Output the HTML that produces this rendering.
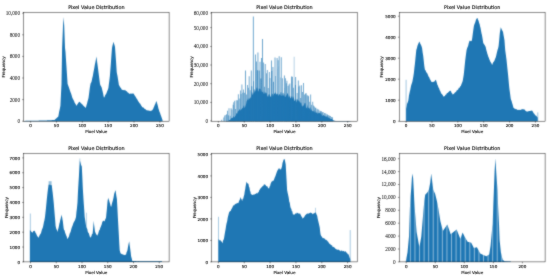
<!DOCTYPE html>
<html lang="en"><head><meta charset="utf-8"><title>Pixel Value Distribution</title>
<style>html,body{margin:0;padding:0;background:#fff}svg{display:block}text{stroke:#111;stroke-width:0.14px}text[stroke-width]{stroke-width:0.04px}</style></head>
<body>
<svg width="550" height="278" viewBox="0 0 550 278" font-family='"DejaVu Sans","Liberation Sans",sans-serif' fill="#111">
<rect width="550" height="278" fill="#fff"/>
<defs><filter id="bl" filterUnits="userSpaceOnUse" x="0" y="0" width="550" height="278" color-interpolation-filters="sRGB"><feConvolveMatrix order="3" kernelMatrix="0.03 0.09 0.03 0.09 0.52 0.09 0.03 0.09 0.03" divisor="1" edgeMode="duplicate"/></filter><filter id="bt" filterUnits="userSpaceOnUse" x="0" y="0" width="550" height="278" color-interpolation-filters="sRGB"><feConvolveMatrix order="3" kernelMatrix="0.015 0.06 0.015 0.06 0.7 0.06 0.015 0.06 0.015" divisor="1" edgeMode="duplicate"/></filter></defs>
<g filter="url(#bl)">
<path d="M24 121.2L24 120.9L24.52 120.89L25.03 120.88L25.55 120.86L26.07 120.87L26.59 120.83L27.1 120.84L27.62 120.85L28.14 120.81L28.65 120.81L29.17 120.81L29.69 120.77L30.2 120.78L30.72 120.78L31.24 120.76L31.75 120.76L32.27 120.73L32.79 120.72L33.31 120.7L33.82 120.71L34.34 120.72L34.86 120.7L35.37 120.7L35.89 120.67L36.41 120.68L36.92 120.63L37.44 120.63L37.96 120.64L38.48 120.64L38.99 120.61L39.51 120.58L40.03 120.58L40.54 120.57L41.06 120.56L41.58 120.58L42.09 120.54L42.61 120.57L43.13 120.56L43.65 120.5L44.16 120.51L44.68 120.51L45 120.5L45.71 120.43L46.23 120.43L46.75 120.44L47.27 120.35L47.78 120.36L48.3 120.29L48.82 120.31L49.33 120.31L49.85 120.22L50.37 120.17L50.88 120.15L51.4 120.17L51.92 120.08L52.44 120.06L52.95 120.08L53.47 120.1L53.99 120.02L54.5 120L55.02 119.52L55.54 119.1L56.05 118.51L56.57 118.18L57.09 117.58L57.6 117.27L58.2 116.7L58.64 114.8L59.16 111.7L59.67 109.43L60.19 106.9L60.4 105.8L60.71 99.51L61.22 89.33L61.5 84L61.74 69.84L62.1 48L62.77 31.8L63 26L63.29 21.44L63.6 17.1L63.81 20.32L64.2 26L65 48L65.5 52L65.88 58.02L66.39 65.46L66.91 73.57L67.6 84L67.94 84.65L68.46 86.22L69.1 88L69.5 89.26L70.01 90.72L70.53 92.34L71.05 93.43L71.56 95.09L72.08 96.91L72.7 98.5L73.11 99.37L73.63 100.31L74.15 101.3L74.67 102.67L75.18 103.44L75.7 104.13L76.4 105.8L76.73 105.51L77.25 104.49L77.77 103.83L78.28 102.96L78.8 102.37L79.3 101.7L79.84 102.09L80.35 102.43L80.87 103.24L81.39 103.4L81.9 104.29L82.2 104.4L82.42 104.34L82.94 105.31L83.45 105.84L83.97 106.17L84.49 106.81L85.01 107.05L85.52 107.87L85.8 108L86.04 107.07L86.56 105.03L87.07 103.56L87.59 101.31L88.11 99.38L88.5 98L89.14 93.28L89.8 88L90.18 85.81L90.6 83.5L91.21 82.38L91.6 81.5L92.24 78.31L92.76 76.32L93 75L93.28 73.33L93.8 70.38L94.31 68.11L94.83 64.8L95.35 62.43L95.86 59.63L96.4 56.4L96.9 60.27L97.41 63.88L97.93 67.87L98.45 71.93L98.97 76L99.48 80.1L100 84L100.52 85.43L101.03 86.21L101.55 87.23L101.8 88L102.07 89.23L102.58 91.27L103.1 93.55L103.62 96.13L104 97.8L104.65 96.67L105.17 95.29L105.69 94.53L106.2 93.69L106.5 93L106.72 92.58L107.24 90.99L107.75 89.93L108.4 88L108.79 84.7L109.31 80.89L109.9 76L110.34 70.31L110.86 63.48L111.37 56.36L112 48L112.41 46.08L112.92 43.91L113.5 41.8L113.96 43.41L114.47 44.98L115 47L115.51 54.08L115.8 58L116.03 61.27L116.7 72L117.06 73.97L117.5 76L118.09 79.69L118.61 82.93L118.9 85.1L119.13 85.27L119.64 86.26L120.16 87.14L120.68 87.85L121.2 88.55L121.8 89.7L122.23 89.75L122.75 90.1L123.26 89.92L123.78 90.23L124.3 89.75L124.81 90.4L125.5 90.2L125.85 90.78L126.37 91.09L126.88 91.6L127.4 92.12L127.92 92.86L128.43 92.87L129.1 93.8L129.47 93.86L129.99 93.76L130.5 93.58L131.02 93.8L131.54 93.77L132.05 93.36L132.57 93.68L133.09 93.5L133.5 93.5L134.12 94.49L134.64 95.41L135.16 95.89L135.67 97.05L136.19 97.74L136.71 98.87L137.22 99.31L137.8 100.4L138.26 101.27L138.77 101.98L139.29 102.68L139.81 103.59L140.32 103.85L140.84 104.95L141.36 105.73L141.88 106.53L142.2 106.9L142.91 107.41L143.43 107.61L143.94 108.09L144.46 108.75L144.98 108.91L145.5 109.24L146.01 109.83L146.5 110.3L147.05 110.37L147.56 110.49L148.08 110.27L148.6 110.8L149.11 110.62L149.63 110.97L150.15 110.59L150.66 111.24L150.9 111L151.18 110.81L151.7 110.6L152.22 110.16L152.73 109.62L153.1 109.1L153.77 107.25L154.28 106.14L154.8 104.82L155.32 103.89L155.84 102.28L156.4 101.1L156.87 102.56L157.39 104.3L157.9 106.1L158.42 108.39L158.9 109.8L159.45 111.66L159.97 112.76L160.49 114.44L161 115.75L161.52 117.24L162.04 118.66L162.5 120L162.6 120.9L162.6 121.2Z" fill="#1f77b4"/>
<rect x="23.6" y="12.5" width="145.5" height="108.7" fill="none" stroke="#000" stroke-width="0.45"/>
<path d="M30.6 121.2v1.4M56.45 121.2v1.4M82.3 121.2v1.4M108.15 121.2v1.4M134 121.2v1.4M159.85 121.2v1.4M23.6 121.2h-1.4M23.6 99.6h-1.4M23.6 78h-1.4M23.6 56.4h-1.4M23.6 34.8h-1.4M23.6 13.2h-1.4" stroke="#000" stroke-width="0.45" fill="none"/>
<path d="M225.9 121.2L225.9 121L226.41 121L226.93 121L227.45 121L227.96 121L228.48 120.84L229 120.34L229.52 120.02L230.03 119.7L230.55 119.45L231.07 118.37L231.58 118.14L232.1 117.4L232.62 118.09L233.13 117.55L233.65 115.89L234.17 117.47L234.69 117.12L235.2 116.02L235.72 115.55L236.24 113.84L236.75 112.9L237.27 113.84L237.79 111.41L238.3 111.13L238.82 110.58L239.34 108.82L239.86 110.2L240.37 109.51L240.89 110.98L241.41 108.83L241.92 108.89L242.44 107.65L242.96 107.93L243.47 106.36L243.99 104.93L244.51 107.98L245.03 107.23L245.54 105.66L246.06 104.21L246.58 101.45L247.09 100.23L247.61 99.74L248.13 97.86L248.64 100.57L249.16 97.97L249.68 99.43L250.2 96.36L250.71 98.45L251.23 97.13L251.75 92.12L252.26 92.4L252.78 95.24L253.3 92.46L253.81 94.43L254.33 90.94L254.85 88.73L255.37 91.1L255.88 91.49L256.4 88.6L256.92 87.33L257.43 88.21L257.95 91.63L258.47 90.95L258.98 88.1L259.5 89.09L260.02 88.72L260.54 88.84L261.05 92.85L261.57 90.09L262.09 92.32L262.6 92.09L263.12 91.14L263.64 94.17L264.15 91.5L264.67 94.31L265.19 91.85L265.71 93.55L266.22 92.68L266.74 93.14L267.26 96.82L267.77 96.16L268.29 93.84L268.81 96.92L269.32 93.72L269.84 94.82L270.36 97.26L270.88 96.11L271.39 93.32L271.91 97.67L272.43 93.7L272.94 93.84L273.46 96.33L273.98 94.02L274.49 93.77L275.01 92.57L275.53 92.56L276.05 94.93L276.56 93.15L277.08 94.85L277.6 93.61L278.11 93.93L278.63 96.37L279.15 93.9L279.66 94.27L280.18 95.64L280.7 92.13L281.22 92.07L281.73 95.96L282.25 95.63L282.77 92.91L283.28 92.73L283.8 95.6L284.32 96.73L284.83 93.15L285.35 97.05L285.87 96.85L286.39 95.59L286.9 94.82L287.42 93.37L287.94 93.18L288.45 98.06L288.97 94.73L289.49 97.34L290 95.39L290.52 98.51L291.04 97.65L291.56 96.42L292.07 96.12L292.59 99.18L293.11 96.25L293.62 97.38L294.14 99.37L294.66 101.16L295.17 100.3L295.69 98.96L296.21 102.48L296.73 99.24L297.24 98.65L297.76 100.28L298.28 101.52L298.79 99.96L299.31 100.9L299.83 102.22L300.34 103.6L300.86 101.76L301.38 103.16L301.9 106.01L302.41 106.67L302.93 105.26L303.45 105.63L303.96 105.31L304.48 103.29L305 103.07L305.51 103.3L306.03 108.07L306.55 107.33L307.07 108.95L307.58 104.56L308.1 107.93L308.62 107.44L309.13 108.95L309.65 107.16L310.17 110.84L310.68 106.49L311.2 109.12L311.72 110.34L312.24 111.41L312.75 110.83L313.27 110.91L313.79 111.6L314.3 112.45L314.82 109.89L315.34 111.77L315.85 113.02L316.37 113.09L316.89 111.28L317.41 113.17L317.92 113.7L318.44 112.72L318.96 113.18L319.47 112.49L319.99 113.51L320.51 113.85L321.02 112.26L321.54 114.44L322.06 115.82L322.58 115.67L323.09 115.43L323.61 114.7L324.13 115.93L324.64 115.77L325.16 115.69L325.68 116.89L326.19 115.46L326.71 117.18L327.23 116.04L327.75 117.41L328.26 117.49L328.78 117.39L329.3 118.36L329.81 118.37L330.33 118.78L330.85 119.34L331.36 118.99L331.88 119.11L332.4 119.62L332.92 120.09L333.43 120.18L333.95 120.41L334.47 120.73L334.98 120.85L335.5 121L336.02 121L336.53 121L337.05 121L337.57 121L338.09 121L338.6 121L339.12 121L339.64 121L340.15 121L340.67 121L341.19 121L341.7 121L342.22 121L342.74 121L343.26 121L343.77 121L344.29 121L344.81 121L345.32 121L345.84 121L346.36 121L346.87 121L347.39 121L347.91 121L348.43 121L348.94 121L349.46 121L349.98 121L350.49 121L350.49 121.2Z" fill="#1f77b4"/>
<path d="M221.36 121.2V119.79h0.8V121.2zM223.43 121.2V117.55h0.8V121.2zM225.5 121.2V114.95h0.8V121.2zM227.05 121.2V110.86h0.8V121.2zM228.6 121.2V108.14h0.8V121.2zM230.67 121.2V108.21h0.8V121.2zM232.73 121.2V104.83h0.8V121.2zM234.29 121.2V100.7h0.8V121.2zM235.84 121.2V100.24h0.8V121.2zM237.9 121.2V94.33h0.8V121.2zM239.97 121.2V90.49h0.8V121.2zM241.52 121.2V84.57h0.8V121.2zM243.07 121.2V89.43h0.8V121.2zM247.21 121.2V84.95h0.8V121.2zM248.76 121.2V76.24h0.8V121.2zM256 121.2V61.54h0.8V121.2zM263.24 121.2V62.41h0.8V121.2zM266.86 121.2V70.09h0.8V121.2zM268.92 121.2V71.89h0.8V121.2zM277.71 121.2V60.37h0.8V121.2zM284.95 121.2V78.21h0.8V121.2zM286.5 121.2V80.82h0.8V121.2zM288.57 121.2V84.48h0.8V121.2zM292.19 121.2V76.72h0.8V121.2zM297.88 121.2V80.41h0.8V121.2zM299.43 121.2V85.54h0.8V121.2zM300.98 121.2V85.23h0.8V121.2zM303.05 121.2V82.97h0.8V121.2zM305.11 121.2V93.57h0.8V121.2zM306.67 121.2V95.25h0.8V121.2zM308.22 121.2V96.22h0.8V121.2zM310.28 121.2V94.51h0.8V121.2zM312.35 121.2V101.77h0.8V121.2zM313.9 121.2V106.53h0.8V121.2zM315.45 121.2V107.67h0.8V121.2zM317.52 121.2V109.27h0.8V121.2zM319.59 121.2V110.63h0.8V121.2zM321.14 121.2V111.23h0.8V121.2zM322.69 121.2V111.98h0.8V121.2zM324.76 121.2V113.21h0.8V121.2zM326.83 121.2V114.34h0.8V121.2zM328.38 121.2V115.26h0.8V121.2zM329.93 121.2V115.96h0.8V121.2zM332 121.2V117.13h0.8V121.2z" fill="#1f77b4" opacity="0.75"/>
<path d="M252.9 121.2V16.5h0.8V121.2zM262.2 121.2V39.1h0.8V121.2zM245.14 121.2V70.5h0.8V121.2zM250.83 121.2V70.5h0.8V121.2zM254.97 121.2V54.5h0.8V121.2zM257.55 121.2V52.4h0.8V121.2zM259.62 121.2V61.8h0.8V121.2zM261.17 121.2V58h0.8V121.2zM264.79 121.2V64h0.8V121.2zM270.99 121.2V60.4h0.8V121.2zM272.54 121.2V67h0.8V121.2zM274.61 121.2V57.5h0.8V121.2zM276.68 121.2V58h0.8V121.2zM278.75 121.2V56.3h0.8V121.2zM280.82 121.2V57.2h0.8V121.2zM283.92 121.2V75.6h0.8V121.2zM291.16 121.2V76.4h0.8V121.2zM295.29 121.2V77h0.8V121.2zM224.38 121.2V115.58h0.7V121.2zM226.19 121.2V114.33h0.7V121.2zM228 121.2V115.3h0.7V121.2zM229.81 121.2V115.81h0.7V121.2zM231.62 121.2V109.54h0.7V121.2zM233.43 121.2V102.35h0.7V121.2zM235.24 121.2V108.93h0.7V121.2zM237.05 121.2V100.21h0.7V121.2zM238.86 121.2V98.6h0.7V121.2zM240.67 121.2V93.94h0.7V121.2zM242.48 121.2V92.76h0.7V121.2zM244.29 121.2V92.74h0.7V121.2zM246.1 121.2V94.6h0.7V121.2zM247.91 121.2V87.81h0.7V121.2zM249.72 121.2V90.18h0.7V121.2zM251.53 121.2V86.16h0.7V121.2zM253.34 121.2V81.18h0.7V121.2zM255.14 121.2V70.08h0.7V121.2zM256.95 121.2V70.16h0.7V121.2zM258.76 121.2V70.51h0.7V121.2zM260.57 121.2V78.6h0.7V121.2zM262.38 121.2V71.51h0.7V121.2zM264.19 121.2V86.73h0.7V121.2zM266 121.2V73.36h0.7V121.2zM267.81 121.2V87.94h0.7V121.2zM269.62 121.2V78.08h0.7V121.2zM271.43 121.2V70.91h0.7V121.2zM273.24 121.2V81.68h0.7V121.2zM275.05 121.2V76.02h0.7V121.2zM276.86 121.2V69.18h0.7V121.2zM278.67 121.2V66.67h0.7V121.2zM280.48 121.2V77.59h0.7V121.2zM282.29 121.2V78.32h0.7V121.2zM284.1 121.2V87.92h0.7V121.2zM285.91 121.2V83.22h0.7V121.2zM287.72 121.2V85.88h0.7V121.2zM289.53 121.2V83.42h0.7V121.2zM291.33 121.2V81.58h0.7V121.2zM293.14 121.2V87.65h0.7V121.2zM294.95 121.2V85.01h0.7V121.2zM296.76 121.2V93.06h0.7V121.2zM298.57 121.2V86.58h0.7V121.2zM300.38 121.2V97.94h0.7V121.2zM302.19 121.2V92.06h0.7V121.2zM304 121.2V94.55h0.7V121.2zM305.81 121.2V93.34h0.7V121.2zM307.62 121.2V95.55h0.7V121.2zM309.43 121.2V101.72h0.7V121.2zM311.24 121.2V104.64h0.7V121.2zM313.05 121.2V105.51h0.7V121.2zM314.86 121.2V107.68h0.7V121.2zM316.67 121.2V108.75h0.7V121.2zM318.48 121.2V109.85h0.7V121.2zM320.29 121.2V111.37h0.7V121.2zM322.1 121.2V112.22h0.7V121.2zM323.91 121.2V112.95h0.7V121.2zM325.72 121.2V113.81h0.7V121.2zM327.52 121.2V115.05h0.7V121.2zM329.33 121.2V115.8h0.7V121.2zM331.14 121.2V117.01h0.7V121.2z" fill="#1f77b4" opacity="0.8"/>
<path d="M293.74 121.2V56.7h0.8V121.2z" fill="#1f77b4" opacity="0.4"/>
<rect x="211.6" y="12.5" width="145.6" height="108.7" fill="none" stroke="#000" stroke-width="0.45"/>
<path d="M218.4 121.2v1.4M244.26 121.2v1.4M270.12 121.2v1.4M295.98 121.2v1.4M321.84 121.2v1.4M347.7 121.2v1.4M211.6 120.9h-1.4M211.6 102.4h-1.4M211.6 83.7h-1.4M211.6 65h-1.4M211.6 46.5h-1.4M211.6 27.6h-1.4M211.6 13h-1.4" stroke="#000" stroke-width="0.45" fill="none"/>
<path d="M406.1 121.2L406.1 109L406.62 106.24L407 104L407.65 102.41L408.3 100.4L408.69 97.75L409 95.1L409.2 94.59L409.72 92.08L410.24 89.92L410.8 87L411.27 84.88L411.79 83.4L412.3 81.97L412.6 80.5L412.82 79.29L413.34 76.38L414 72L414.37 68.27L414.89 63.89L415.1 62L415.41 58.71L415.92 53.81L416.3 50L416.96 47.88L417.47 45.65L417.8 45L418.51 43.33L419.02 42.35L419.5 41.6L420.06 43.24L420.58 44.28L421 45L421.61 46.47L422.1 48.2L422.64 52.43L423.16 55.61L423.5 58.4L424.3 66L424.71 68.46L425 70L425.23 70.04L425.75 70.76L426.26 72.38L426.78 72.62L427.3 73.47L427.9 74.7L428.33 76.01L428.85 76.96L429.37 77.48L429.88 79.13L430.4 79.8L430.92 80.98L431.5 82L431.95 81.64L432.47 82.2L432.98 81.87L433.5 82.02L434 81.5L434.54 81.38L435.05 80.38L435.57 79.97L435.9 79.8L436.6 81.89L437.12 83.63L437.4 84.9L437.64 85.04L438.15 86.4L438.67 87.82L439.19 88.43L439.7 90.18L440.22 91.03L440.74 92.15L441 92.9L441.26 93.53L441.77 93.92L442.29 94.47L442.81 95.31L443.32 96.21L443.9 96.8L444.36 95.91L444.88 96.17L445.39 94.75L445.91 94.85L446.43 94.37L446.94 93.07L447.5 92.9L447.98 92.81L448.49 92.05L449.01 91.86L449.53 90.97L450.05 90.63L450.5 90.7L451.08 91.43L451.6 93.04L452.11 93.27L452.6 94.4L453.15 94.22L453.66 93.98L454.18 93.6L454.7 92.67L455.21 92.29L455.5 92.2L455.73 91.95L456.25 91.56L456.77 90.34L457.28 90.3L457.8 89.73L458.32 89.17L458.83 87.82L459.2 87.8L459.87 87.45L460.38 86.1L460.8 86L461.42 84.15L461.94 82.98L462.45 81.83L462.8 80.5L463.49 76.23L463.7 75.1L464 72.52L464.52 67.15L465.2 60.5L465.56 57.67L466.07 53.8L466.6 50L467.11 48.36L467.62 46.89L468.1 46L468.66 43.5L469.17 41.95L469.5 40.5L470.21 41.2L470.73 40.64L471.24 40.73L471.7 41.3L472.28 37.73L472.79 33.73L473.31 30.02L473.9 26L474.34 24.45L474.86 23.25L475.38 21.93L475.89 20.07L476.1 19.5L476.41 19.1L476.93 18.21L477.5 18L477.96 19.74L478.48 20.47L479 22.42L479.7 24.5L480.03 26.34L480.55 28.1L481.06 31.04L481.58 33.63L481.9 34.7L482.62 39.02L483.13 42.19L483.4 43.5L483.65 43.49L484.17 44.5L484.68 44.96L485.2 46.3L485.5 46.4L485.72 47.2L486.3 50L486.75 51.38L487.27 53.49L487.79 54.98L488.3 56.71L488.82 57.87L489.2 59.1L489.85 60.4L490.37 61.65L490.89 62.46L491.4 63.32L492.1 64.9L492.44 64.13L492.96 62.85L493.47 62.01L493.99 61.51L494.51 60.43L495.02 59.09L495.7 57.6L496.06 56.17L496.57 53.95L497.09 51.66L497.61 49.76L498.13 48.15L498.6 46L499.16 40.4L499.8 33.3L500.19 30.77L500.8 27.2L501.23 28.35L501.75 29.42L502.26 30.43L502.78 31.49L503 31.8L503.3 33.75L503.81 36.39L504.5 40.5L504.85 45.39L505.2 50L505.88 54.91L506.4 58.97L506.6 60.5L506.92 63.81L507.43 68.77L508.1 75.1L508.47 78.9L509.1 86L509.5 89.53L510.02 93.3L510.7 98.5L511.05 99.72L511.57 100.9L512.09 103.08L512.6 104.51L513.12 106.58L513.6 108L514.15 108.21L514.67 108.75L515.19 108.82L515.7 109.18L516.22 108.99L516.74 109.48L517.25 109.79L517.77 110.1L518 109.9L518.29 109.72L518.81 110.08L519.32 110.03L519.84 109.78L520.36 109.96L520.87 109.86L521.39 109.39L521.91 109.32L522.42 108.91L522.94 109.44L523.46 109.45L523.8 109L524.49 109.6L525.01 110.26L525.53 110.75L526.04 111.22L526.7 111.6L527.08 111.22L527.6 111.66L528.11 111.37L528.63 111.33L529.15 111L529.66 111.07L530.18 111.1L530.7 110.86L531.21 110.82L531.8 110.5L532.25 110.69L532.76 111.53L533.28 112.49L533.8 113.39L534.32 113.72L534.7 114.5L535.35 115.32L535.87 115.78L536.38 115.84L536.9 116.7L537.42 117.2L537.7 117.5L537.7 121.2Z" fill="#1f77b4"/>
<rect x="405.7" y="79.8" width="0.75" height="41.4" fill="#1f77b4" opacity="0.55"/>
<rect x="537.5" y="112.4" width="0.7" height="8.8" fill="#1f77b4" opacity="0.6"/>
<rect x="399.3" y="12.5" width="145.8" height="108.7" fill="none" stroke="#000" stroke-width="0.45"/>
<path d="M406.1 121.2v1.4M431.97 121.2v1.4M457.84 121.2v1.4M483.71 121.2v1.4M509.58 121.2v1.4M535.45 121.2v1.4M399.3 121.2h-1.4M399.3 100.2h-1.4M399.3 79.2h-1.4M399.3 58.2h-1.4M399.3 37.2h-1.4M399.3 16.2h-1.4" stroke="#000" stroke-width="0.45" fill="none"/>
<path d="M29.9 261.9L29.9 229.8L30.42 230.77L31 231L31.45 232L31.97 232.15L32.4 232.7L33 231.74L33.52 230.83L34.04 231.21L34.5 230.5L35.07 231.6L35.59 233.04L36.1 233.53L36.5 234.5L37.14 236.12L37.66 236.42L38.2 237.8L38.69 237.36L39.21 236.35L39.72 235L40.24 234.27L40.76 233.56L41.1 232.7L41.79 230.01L42.31 228.82L42.83 227.48L43.3 225.5L43.86 222.41L44.38 220.61L45 217.1L45.41 213.37L45.93 208.56L46.5 202.5L46.96 197.87L47.6 192L48.1 188L48.6 185L49.03 184.28L49.55 185.08L50 184.5L50.58 185.25L51.1 185.03L51.8 185.5L52.3 190L52.65 192.54L53.16 197.3L53.7 202.5L54.2 208.76L54.9 217.1L55.23 221.04L55.6 226L56.27 228.74L56.78 229.86L57.5 232L57.82 230.31L58.5 228L58.85 226.56L59.37 223.72L59.89 222.08L60.2 220L60.4 219.83L60.92 217.38L61.44 215.67L61.7 214.5L61.95 216.28L62.47 219.48L62.8 221L63.6 228L64.02 229.99L64.54 230.28L65.1 232.7L65.57 233.71L66.09 235.36L66.61 236.25L67.12 237.96L67.7 239.3L68.16 237.52L68.67 237.26L69.19 235.4L69.71 233.46L70.2 232.7L70.74 231.27L71.26 229.21L71.78 227.47L72.4 226L72.81 225L73.33 223.28L73.84 222.15L74.5 221L74.88 220.5L75.4 218.89L76 217L76.43 212.16L76.95 208.23L77.5 202.5L77.98 191.86L78.2 188L78.5 182.96L78.9 176.7L79.4 166.5L79.9 160.5L80.6 163L81.08 164.97L81.8 166.5L82.3 176.7L82.8 188L83.15 193.82L83.7 202.5L84.19 209.26L84.7 217L85.22 220.29L85.74 223.75L86.2 227L86.9 228.4L87.29 228.99L87.8 231.7L88.5 233L88.84 233.19L89.36 234.94L89.87 236.64L90.5 237.8L90.91 236.72L91.42 236.33L91.94 234.11L92.46 233.93L92.7 232.7L92.97 229.96L93.49 223.45L93.7 220.7L94.01 223.97L94.53 227.91L94.9 231.3L95.56 233.05L96.08 234.02L96.59 234.64L97.2 235.8L97.63 234.69L98.14 233.73L98.66 232.02L99.18 230.28L99.69 229.91L100.21 227.94L100.8 226.8L101.25 225.44L101.76 224.31L102.28 221.9L102.6 221.4L103.31 220.73L103.83 220.87L104.4 221.4L104.86 220.54L105.38 219.12L106 218L106.42 213.5L106.8 210L107.5 201.8L107.97 198.86L108.2 197.5L108.48 199.08L109 199.93L109.5 202L110.03 203.51L110.55 205.75L111.1 206.9L111.59 205.29L112.1 202.93L112.62 201.34L113 200L113.65 196.92L114.17 194.03L114.5 193L115.2 190.85L115.5 190.2L115.72 191.31L116.24 195.22L116.9 198.9L117.27 205.78L117.9 218L118.31 225.46L118.8 234L119.34 244.4L119.7 250.2L120.38 252.82L120.9 253.8L121.41 253.82L121.93 254.33L122.44 254.13L122.96 254.43L123.3 254.7L123.99 254.68L124.51 255.11L125.03 255.31L125.55 254.41L126 254.7L126.58 252.19L127.1 251.19L127.5 250L128.13 246.12L128.65 243.4L129.2 241.2L129.68 245.33L130.2 249L130.72 252.71L131 255.6L131.23 256.84L131.75 258.61L132.3 261L132.78 261.1L133.3 261.1L133.82 260.95L134.33 260.99L134.85 261.15L135.37 261.1L135.88 261.08L136.4 261.16L136.92 261.18L137.44 261.13L137.95 261.14L138.47 261.09L138.99 261.15L139.5 261.13L140 261.2L140.54 261.22L141.06 261.22L141.57 261.15L142.09 261.23L142.61 261.15L143.12 261.15L143.64 261.24L144.16 261.21L144.67 261.28L145.19 261.24L145.71 261.26L146.22 261.17L146.74 261.28L147.26 261.17L147.78 261.25L148.29 261.3L148.81 261.3L149.33 261.3L149.84 261.24L150.36 261.28L150.88 261.29L151.4 261.2L151.91 261.32L152.43 261.32L152.95 261.25L153.46 261.3L153.98 261.26L154.5 261.23L155.01 261.3L155.53 261.21L156.05 261.32L156.56 261.34L157.08 261.25L157.6 261.34L158.12 261.22L158.63 261.34L159.15 261.26L159.67 261.36L160.18 261.28L160.7 261.35L161.22 261.23L161.74 261.24L162 261.3L162 261.9Z" fill="#1f77b4"/>
<rect x="29.9" y="213.5" width="0.7" height="48.4" fill="#1f77b4" opacity="0.55"/>
<rect x="86.3" y="212.7" width="0.6" height="20" fill="#1f77b4" opacity="0.5"/>
<rect x="79.6" y="158.5" width="0.6" height="5" fill="#1f77b4" opacity="0.5"/>
<rect x="48.6" y="181.2" width="3" height="5" fill="#1f77b4" opacity="0.45"/>
<rect x="23.6" y="153.5" width="145.5" height="108.4" fill="none" stroke="#000" stroke-width="0.45"/>
<path d="M30.5 261.9v1.4M56.25 261.9v1.4M82 261.9v1.4M107.75 261.9v1.4M133.5 261.9v1.4M159.25 261.9v1.4M23.6 261.9h-1.4M23.6 247.04h-1.4M23.6 232.18h-1.4M23.6 217.32h-1.4M23.6 202.46h-1.4M23.6 187.6h-1.4M23.6 172.74h-1.4M23.6 157.88h-1.4" stroke="#000" stroke-width="0.45" fill="none"/>
<path d="M218.4 261.9L218.4 239.5L218.92 239.32L219.43 240.76L219.95 239.68L220.6 240.6L220.99 241.49L221.5 241.26L222.02 242.28L222.3 243.1L222.54 243.25L223.05 240.55L223.57 239.82L224 238.4L224.6 234.83L225.12 231.81L225.64 228.88L226.16 225.39L226.6 223.3L227.19 221.23L227.71 217.77L228.22 215.72L228.8 213.6L229.26 212.05L229.77 211.56L230.29 210.91L230.81 210.81L231.2 209.5L232 208.2L232.36 207.44L232.88 206.21L233.39 205.62L234.1 204.9L234.43 205.5L234.94 203.71L235.46 204.3L235.98 203.61L236.5 203.5L237.01 203.55L237.53 202.83L238.05 203.19L238.5 202.7L239.08 201.09L239.6 199.91L240.11 198.88L240.6 196.9L241.15 198.64L241.66 199.45L242.1 201.3L242.7 198.81L243.22 198.67L243.73 196.38L244.3 194.7L244.77 191.21L245.28 189.1L245.5 187L245.8 185.5L246.5 181.6L246.84 182.43L247.35 183.39L247.87 183.15L248.39 183.98L248.6 184.5L248.9 186.41L249.42 187.46L249.94 190.7L250.45 191.86L250.8 194L251.49 194.43L252 194.55L252.52 195.05L253.04 194.97L253.56 194.53L254.07 194.14L254.5 194.7L255.11 193.77L255.62 194.06L256.14 193.71L256.66 192.7L257.18 193.71L257.69 192.76L258.1 192.5L258.73 191.89L259.24 190.36L259.76 189.63L260.28 188.49L260.79 188.25L261 188.2L261.31 187.43L261.83 187.02L262.35 186.29L262.86 186.36L263.38 185.79L263.9 184.5L264.41 184.25L264.93 184.87L265.45 184.77L265.96 185.83L266.48 186.59L266.8 186L267.51 186.47L268.03 188.05L268.55 187.99L269 188.9L269.58 186.4L270.1 186.07L270.62 183.87L271.2 182.4L271.65 181.53L272.17 181.56L272.69 180.84L273.2 180.73L273.7 180.5L274.24 179L274.75 177.59L275.27 176.5L275.9 174.7L276.3 173.46L276.82 171.99L277.34 170.81L277.86 169.69L278.37 169.19L278.8 168.2L279.41 168.36L279.92 169.41L280.44 169.25L281 169.6L281.47 168.06L281.99 166.45L282.51 162.94L283.2 160.9L283.54 159.66L284.06 159.16L284.6 159L285.09 161.28L285.7 164.5L286.13 172.41L286.5 179.1L287.1 190L287.68 193.11L288.1 194.7L288.71 197.72L289.23 201.45L289.75 202.66L290.3 206.4L290.78 208.26L291.3 208.69L291.81 211.18L292.33 211.26L292.85 214.17L293.2 214.4L293.88 214.58L294.4 214.77L294.92 213.93L295.43 213.11L295.95 214.19L296.47 213.17L296.98 212.41L297.5 212.9L298.02 213.33L298.54 213.41L299.05 213.63L299.57 213.38L300.09 213.59L300.5 214.4L301.12 215.8L301.64 216.65L302.15 217.19L302.6 218.7L303.19 217.87L303.7 217.69L304.22 217.03L304.74 216L305.26 215.23L305.5 215.1L305.77 214.71L306.29 214.19L306.81 213.84L307.32 213.93L307.84 213.08L308.36 213.76L308.88 213.43L309.2 212.9L309.91 213.19L310.43 212.34L310.94 212.97L311.46 213.16L311.98 212.7L312.49 214.18L313.01 213.93L313.5 213.6L314.05 213.29L314.56 213.31L315.08 212.21L315.4 212.5L316.11 213.37L316.63 214.8L317.2 215.8L317.66 218.38L318.18 220.66L318.6 222.4L319.4 226L319.73 227.59L320.25 232.27L320.6 234.6L321.28 236.16L321.8 236.59L322.32 237.57L322.83 238.35L323.3 238.2L323.87 238.04L324.38 238.42L324.9 239.08L325.42 240.02L325.94 239.31L326.45 240.48L326.9 240L327.49 241.29L328 241.41L328.52 242.23L329.04 243.4L329.56 243.77L330.07 243.64L330.5 244.5L331.11 245.54L331.62 244.91L332.14 245.6L332.66 246.96L333.17 247.19L333.69 246.75L334.21 247.13L334.73 248.06L335 248.1L335.24 248.77L335.76 248.77L336.28 249.44L336.79 249.36L337.31 249.77L337.83 249.68L338.34 249.55L338.86 249.91L339.38 250.27L339.89 250.59L340.4 250.8L340.93 251.43L341.45 250.6L341.96 250.37L342.48 251.52L343 250.87L343.51 251.19L344.03 250.79L344.55 252.02L345.06 251.22L345.58 251.33L345.8 251.7L346.1 252.49L346.62 252.52L347.13 252.68L347.65 254.17L348.17 253.93L348.5 254.4L349.2 256.3L349.7 258L350.3 259L350.3 261.9Z" fill="#1f77b4"/>
<rect x="218.1" y="216.8" width="0.7" height="45.1" fill="#1f77b4" opacity="0.55"/>
<rect x="349.8" y="230.1" width="0.7" height="31.8" fill="#1f77b4" opacity="0.55"/>
<rect x="315.1" y="207.8" width="0.6" height="8" fill="#1f77b4" opacity="0.5"/>
<rect x="211.6" y="153.5" width="145.6" height="108.4" fill="none" stroke="#000" stroke-width="0.45"/>
<path d="M218.4 261.9v1.4M244.25 261.9v1.4M270.1 261.9v1.4M295.95 261.9v1.4M321.8 261.9v1.4M347.65 261.9v1.4M211.6 261.9h-1.4M211.6 240.4h-1.4M211.6 218.9h-1.4M211.6 197.4h-1.4M211.6 175.9h-1.4M211.6 154.4h-1.4" stroke="#000" stroke-width="0.45" fill="none"/>
<path d="M405.8 261.9L405.8 261.3L407.5 252.6L409 236.4L409.9 208L410.6 196L411.2 189L411.9 178L412.5 173.5L413.1 178L413.7 189L414.2 200L414.7 208L416.6 232.1L419.4 247.2L421.3 236.4L423.1 214.8L424.3 201L425.2 194.7L427.3 192.5L428.8 190L430.2 183L431.2 173.5L432.4 183L433.3 190L435.1 193.8L436.9 201L438.3 208.3L440.4 221.3L442.9 231L447.3 224.5L450.7 234.2L456.6 229.5L460.4 239L462.6 232.5L464.9 237.3L467.6 241.8L471.2 242.7L473.9 248.1L476.9 247.2L480.2 253.5L483.8 255.3L486.5 256.2L489.2 254.4L490.6 245.4L491.9 231L492.7 224L493.3 205L493.9 190L494.6 171.8L495.4 158.3L496.2 171.8L497.5 190L498.2 208L499 224L499.6 240L500.9 252.6L502.7 259.8L504.5 261.2L510.8 261.4L510.8 261.9Z" fill="#1f77b4"/>
<clipPath id="c6"><path d="M405.8 261.9L405.8 261.3L407.5 252.6L409 236.4L409.9 208L410.6 196L411.2 189L411.9 178L412.5 173.5L413.1 178L413.7 189L414.2 200L414.7 208L416.6 232.1L419.4 247.2L421.3 236.4L423.1 214.8L424.3 201L425.2 194.7L427.3 192.5L428.8 190L430.2 183L431.2 173.5L432.4 183L433.3 190L435.1 193.8L436.9 201L438.3 208.3L440.4 221.3L442.9 231L447.3 224.5L450.7 234.2L456.6 229.5L460.4 239L462.6 232.5L464.9 237.3L467.6 241.8L471.2 242.7L473.9 248.1L476.9 247.2L480.2 253.5L483.8 255.3L486.5 256.2L489.2 254.4L490.6 245.4L491.9 231L492.7 224L493.3 205L493.9 190L494.6 171.8L495.4 158.3L496.2 171.8L497.5 190L498.2 208L499 224L499.6 240L500.9 252.6L502.7 259.8L504.5 261.2L510.8 261.4L510.8 261.9Z"/></clipPath>
<path d="M405.82 154.5V261.9M410.39 154.5V261.9M414.96 154.5V261.9M419.53 154.5V261.9M424.1 154.5V261.9M428.67 154.5V261.9M433.24 154.5V261.9M437.81 154.5V261.9M442.38 154.5V261.9M446.95 154.5V261.9M451.52 154.5V261.9M456.09 154.5V261.9M460.66 154.5V261.9M465.23 154.5V261.9M469.8 154.5V261.9M474.37 154.5V261.9M478.94 154.5V261.9M483.51 154.5V261.9M488.08 154.5V261.9M492.65 154.5V261.9M497.22 154.5V261.9M501.79 154.5V261.9" stroke="#fff" stroke-width="0.8" opacity="0.6" fill="none" clip-path="url(#c6)"/>
<rect x="399.3" y="153.5" width="145.8" height="108.4" fill="none" stroke="#000" stroke-width="0.45"/>
<path d="M406.2 261.9v1.4M435.25 261.9v1.4M464.3 261.9v1.4M493.35 261.9v1.4M522.4 261.9v1.4M399.3 261.9h-1.4M399.3 249h-1.4M399.3 236.1h-1.4M399.3 223.2h-1.4M399.3 210.3h-1.4M399.3 197.4h-1.4M399.3 184.5h-1.4M399.3 171.6h-1.4M399.3 158.7h-1.4" stroke="#000" stroke-width="0.45" fill="none"/>
</g>
<g filter="url(#bt)">
<text x="30.6" y="127.37" text-anchor="middle" font-size="4.1">0</text>
<text x="56.45" y="127.37" text-anchor="middle" font-size="4.1">50</text>
<text x="82.3" y="127.37" text-anchor="middle" font-size="4.1">100</text>
<text x="108.15" y="127.37" text-anchor="middle" font-size="4.1">150</text>
<text x="134" y="127.37" text-anchor="middle" font-size="4.1">200</text>
<text x="159.85" y="127.37" text-anchor="middle" font-size="4.1">250</text>
<text x="20" y="123.1" text-anchor="end" font-size="5.2" stroke-width="0.05" font-family='"Liberation Serif",serif'>0</text>
<text x="20" y="101.5" text-anchor="end" font-size="5.2" stroke-width="0.05" font-family='"Liberation Serif",serif'>2000</text>
<text x="20" y="79.9" text-anchor="end" font-size="5.2" stroke-width="0.05" font-family='"Liberation Serif",serif'>4000</text>
<text x="20" y="58.3" text-anchor="end" font-size="5.2" stroke-width="0.05" font-family='"Liberation Serif",serif'>6000</text>
<text x="20" y="36.7" text-anchor="end" font-size="5.2" stroke-width="0.05" font-family='"Liberation Serif",serif'>8000</text>
<text x="20" y="15.1" text-anchor="end" font-size="5.2" stroke-width="0.05" font-family='"Liberation Serif",serif'>10,000</text>
<text x="96.35" y="9.3" text-anchor="middle" font-size="4.9">Pixel Value Distribution</text>
<text x="96.35" y="132.8" text-anchor="middle" font-size="4.1">Pixel Value</text>
<text transform="translate(4.7 66.85) rotate(-90)" text-anchor="middle" font-size="4.1">Frequency</text>
<text x="218.4" y="127.37" text-anchor="middle" font-size="4.1">0</text>
<text x="244.26" y="127.37" text-anchor="middle" font-size="4.1">50</text>
<text x="270.12" y="127.37" text-anchor="middle" font-size="4.1">100</text>
<text x="295.98" y="127.37" text-anchor="middle" font-size="4.1">150</text>
<text x="321.84" y="127.37" text-anchor="middle" font-size="4.1">200</text>
<text x="347.7" y="127.37" text-anchor="middle" font-size="4.1">250</text>
<text x="208" y="122.8" text-anchor="end" font-size="5.2" stroke-width="0.05" font-family='"Liberation Serif",serif'>0</text>
<text x="208" y="104.3" text-anchor="end" font-size="5.2" stroke-width="0.05" font-family='"Liberation Serif",serif'>10,000</text>
<text x="208" y="85.6" text-anchor="end" font-size="5.2" stroke-width="0.05" font-family='"Liberation Serif",serif'>20,000</text>
<text x="208" y="66.9" text-anchor="end" font-size="5.2" stroke-width="0.05" font-family='"Liberation Serif",serif'>30,000</text>
<text x="208" y="48.4" text-anchor="end" font-size="5.2" stroke-width="0.05" font-family='"Liberation Serif",serif'>40,000</text>
<text x="208" y="29.5" text-anchor="end" font-size="5.2" stroke-width="0.05" font-family='"Liberation Serif",serif'>50,000</text>
<text x="208" y="14.9" text-anchor="end" font-size="5.2" stroke-width="0.05" font-family='"Liberation Serif",serif'>60,000</text>
<text x="284.4" y="9.3" text-anchor="middle" font-size="4.9">Pixel Value Distribution</text>
<text x="284.4" y="132.8" text-anchor="middle" font-size="4.1">Pixel Value</text>
<text transform="translate(192.7 66.85) rotate(-90)" text-anchor="middle" font-size="4.1">Frequency</text>
<text x="406.1" y="127.37" text-anchor="middle" font-size="4.1">0</text>
<text x="431.97" y="127.37" text-anchor="middle" font-size="4.1">50</text>
<text x="457.84" y="127.37" text-anchor="middle" font-size="4.1">100</text>
<text x="483.71" y="127.37" text-anchor="middle" font-size="4.1">150</text>
<text x="509.58" y="127.37" text-anchor="middle" font-size="4.1">200</text>
<text x="535.45" y="127.37" text-anchor="middle" font-size="4.1">250</text>
<text x="395.7" y="122.9" text-anchor="end" font-size="4.1">0</text>
<text x="395.7" y="101.9" text-anchor="end" font-size="4.1">1000</text>
<text x="395.7" y="80.9" text-anchor="end" font-size="4.1">2000</text>
<text x="395.7" y="59.9" text-anchor="end" font-size="4.1">3000</text>
<text x="395.7" y="38.9" text-anchor="end" font-size="4.1">4000</text>
<text x="395.7" y="17.9" text-anchor="end" font-size="4.1">5000</text>
<text x="472.2" y="9.3" text-anchor="middle" font-size="4.9">Pixel Value Distribution</text>
<text x="472.2" y="132.8" text-anchor="middle" font-size="4.1">Pixel Value</text>
<text transform="translate(383.2 66.85) rotate(-90)" text-anchor="middle" font-size="4.1">Frequency</text>
<text x="30.5" y="268.07" text-anchor="middle" font-size="4.1">0</text>
<text x="56.25" y="268.07" text-anchor="middle" font-size="4.1">50</text>
<text x="82" y="268.07" text-anchor="middle" font-size="4.1">100</text>
<text x="107.75" y="268.07" text-anchor="middle" font-size="4.1">150</text>
<text x="133.5" y="268.07" text-anchor="middle" font-size="4.1">200</text>
<text x="159.25" y="268.07" text-anchor="middle" font-size="4.1">250</text>
<text x="20" y="263.6" text-anchor="end" font-size="4.1">0</text>
<text x="20" y="248.74" text-anchor="end" font-size="4.1">1000</text>
<text x="20" y="233.88" text-anchor="end" font-size="4.1">2000</text>
<text x="20" y="219.02" text-anchor="end" font-size="4.1">3000</text>
<text x="20" y="204.16" text-anchor="end" font-size="4.1">4000</text>
<text x="20" y="189.3" text-anchor="end" font-size="4.1">5000</text>
<text x="20" y="174.44" text-anchor="end" font-size="4.1">6000</text>
<text x="20" y="159.58" text-anchor="end" font-size="4.1">7000</text>
<text x="96.35" y="150.3" text-anchor="middle" font-size="4.9">Pixel Value Distribution</text>
<text x="96.35" y="273.5" text-anchor="middle" font-size="4.1">Pixel Value</text>
<text transform="translate(7.5 207.7) rotate(-90)" text-anchor="middle" font-size="4.1">Frequency</text>
<text x="218.4" y="268.07" text-anchor="middle" font-size="4.1">0</text>
<text x="244.25" y="268.07" text-anchor="middle" font-size="4.1">50</text>
<text x="270.1" y="268.07" text-anchor="middle" font-size="4.1">100</text>
<text x="295.95" y="268.07" text-anchor="middle" font-size="4.1">150</text>
<text x="321.8" y="268.07" text-anchor="middle" font-size="4.1">200</text>
<text x="347.65" y="268.07" text-anchor="middle" font-size="4.1">250</text>
<text x="208" y="263.6" text-anchor="end" font-size="4.1">0</text>
<text x="208" y="242.1" text-anchor="end" font-size="4.1">1000</text>
<text x="208" y="220.6" text-anchor="end" font-size="4.1">2000</text>
<text x="208" y="199.1" text-anchor="end" font-size="4.1">3000</text>
<text x="208" y="177.6" text-anchor="end" font-size="4.1">4000</text>
<text x="208" y="156.1" text-anchor="end" font-size="4.1">5000</text>
<text x="284.4" y="150.3" text-anchor="middle" font-size="4.9">Pixel Value Distribution</text>
<text x="284.4" y="273.5" text-anchor="middle" font-size="4.1">Pixel Value</text>
<text transform="translate(195.5 207.7) rotate(-90)" text-anchor="middle" font-size="4.1">Frequency</text>
<text x="406.2" y="268.07" text-anchor="middle" font-size="4.1">0</text>
<text x="435.25" y="268.07" text-anchor="middle" font-size="4.1">50</text>
<text x="464.3" y="268.07" text-anchor="middle" font-size="4.1">100</text>
<text x="493.35" y="268.07" text-anchor="middle" font-size="4.1">150</text>
<text x="522.4" y="268.07" text-anchor="middle" font-size="4.1">200</text>
<text x="395.7" y="263.8" text-anchor="end" font-size="5.2" stroke-width="0.05" font-family='"Liberation Serif",serif'>0</text>
<text x="395.7" y="250.9" text-anchor="end" font-size="5.2" stroke-width="0.05" font-family='"Liberation Serif",serif'>2000</text>
<text x="395.7" y="238" text-anchor="end" font-size="5.2" stroke-width="0.05" font-family='"Liberation Serif",serif'>4000</text>
<text x="395.7" y="225.1" text-anchor="end" font-size="5.2" stroke-width="0.05" font-family='"Liberation Serif",serif'>6000</text>
<text x="395.7" y="212.2" text-anchor="end" font-size="5.2" stroke-width="0.05" font-family='"Liberation Serif",serif'>8000</text>
<text x="395.7" y="199.3" text-anchor="end" font-size="5.2" stroke-width="0.05" font-family='"Liberation Serif",serif'>10,000</text>
<text x="395.7" y="186.4" text-anchor="end" font-size="5.2" stroke-width="0.05" font-family='"Liberation Serif",serif'>12,000</text>
<text x="395.7" y="173.5" text-anchor="end" font-size="5.2" stroke-width="0.05" font-family='"Liberation Serif",serif'>14,000</text>
<text x="395.7" y="160.6" text-anchor="end" font-size="5.2" stroke-width="0.05" font-family='"Liberation Serif",serif'>16,000</text>
<text x="472.2" y="150.3" text-anchor="middle" font-size="4.9">Pixel Value Distribution</text>
<text x="472.2" y="273.5" text-anchor="middle" font-size="4.1">Pixel Value</text>
<text transform="translate(380.4 207.7) rotate(-90)" text-anchor="middle" font-size="4.1">Frequency</text>
</g></svg>
</body></html>
